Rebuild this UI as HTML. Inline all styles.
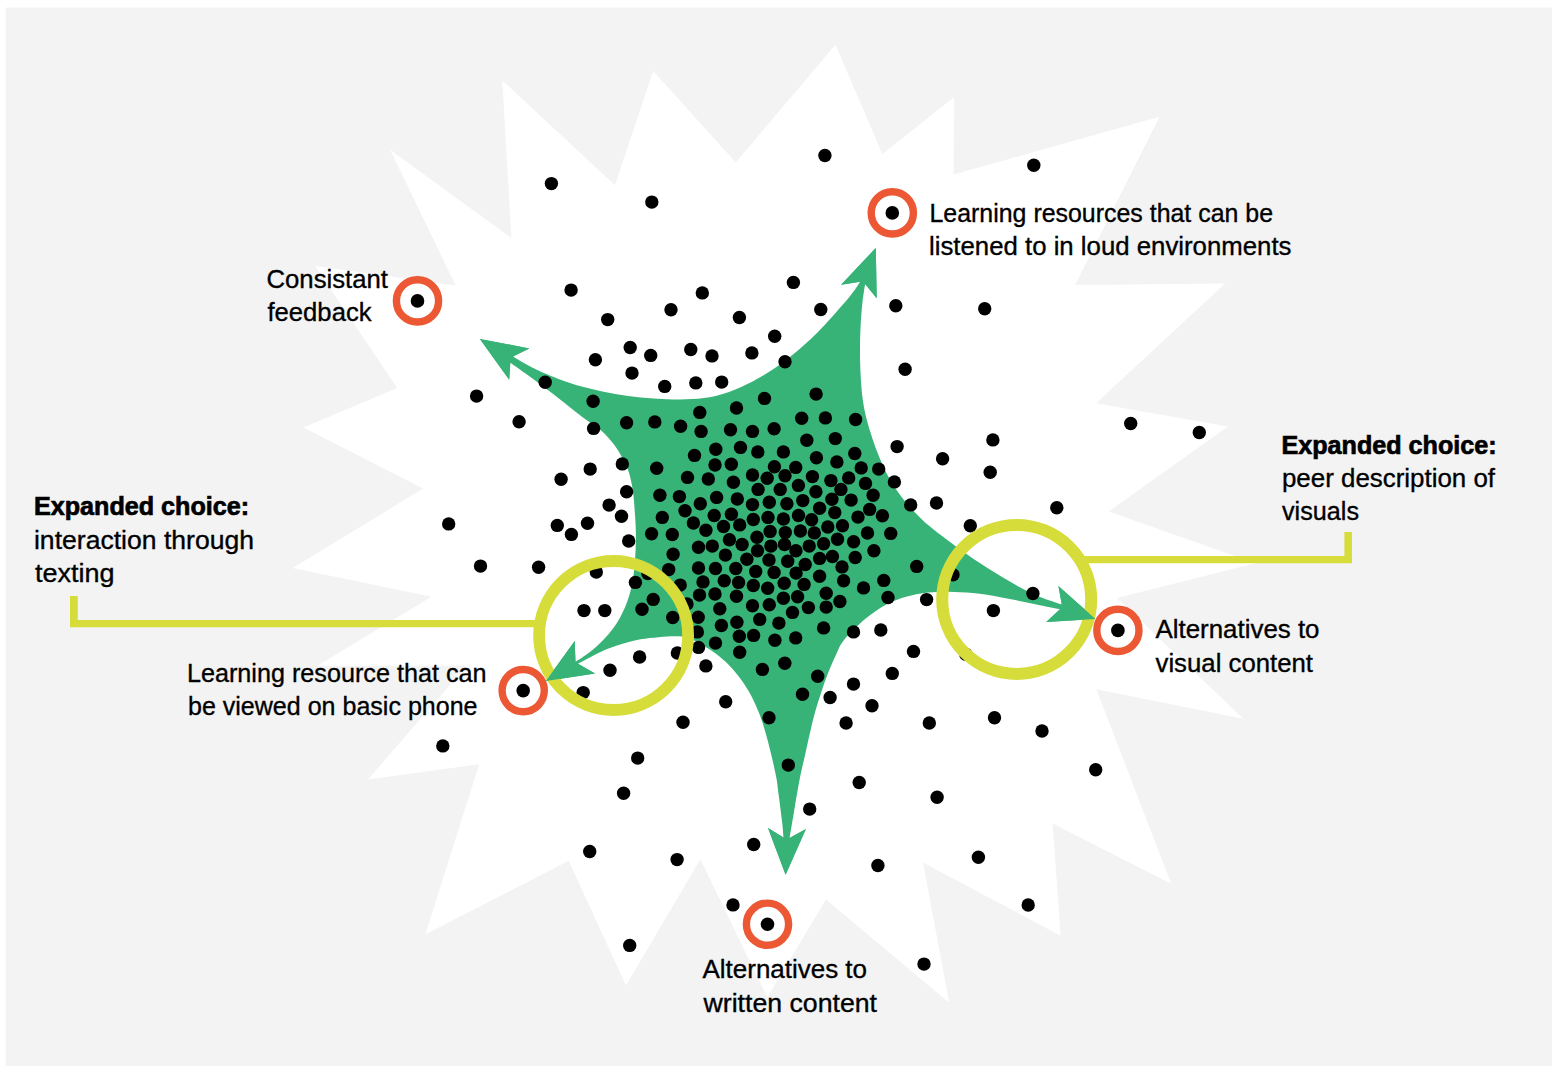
<!DOCTYPE html>
<html><head><meta charset="utf-8"><title>Diagram</title>
<style>
html,body{margin:0;padding:0;background:#fff;}
body{width:1565px;height:1078px;overflow:hidden;font-family:"Liberation Sans",sans-serif;}
svg{display:block;position:absolute;left:0;top:0;}
text{font-family:"Liberation Sans",sans-serif;font-size:26px;fill:#000;stroke:#000;stroke-width:0.35px;}
tspan.b{stroke-width:0.7px;}
</style></head><body>
<svg width="1565" height="1078" viewBox="0 0 1565 1078">
<rect x="0" y="0" width="1565" height="1078" fill="#fff"/>
<rect x="5.6" y="7.6" width="1546.5" height="1058.5" fill="#f3f3f3"/>
<polygon fill="#fff" points="835.4,44.8 882.4,154.0 954.3,97.0 953.5,174.5 1159.5,116.8 1075.0,285.0 1225.1,283.5 1096.0,403.2 1228.0,426.5 1108.6,511.5 1255.6,563.2 1116.9,598.0 1243.3,718.8 1096.3,689.3 1171.2,883.7 1052.6,823.6 1060.7,935.7 923.0,862.4 949.2,1002.7 826.0,899.4 767.3,997.3 700.4,859.3 626.0,985.5 568.7,860.8 425.4,934.3 479.2,764.3 367.9,779.5 466.8,665.6 317.0,666.0 431.5,596.8 292.8,568.0 423.0,488.6 303.5,427.5 397.2,388.0 315.1,266.0 455.7,285.4 390.1,149.8 511.4,238.0 502.3,80.4 615.0,185.2 653.2,71.0 735.8,162.4"/>
<path fill="#37b377" d="M513.0 356.5C515.1 357.8 521.4 361.7 525.6 364.0C529.8 366.3 532.0 367.6 538.4 370.4C544.8 373.2 555.5 377.9 564.0 380.9C572.5 383.9 581.1 386.4 589.6 388.6C598.1 390.8 606.7 392.6 615.2 394.1C623.7 395.6 632.2 396.8 640.8 397.6C649.3 398.5 658.0 398.9 666.5 399.2C675.0 399.4 683.9 399.6 692.1 399.1C700.3 398.6 707.4 398.0 715.6 396.0C723.8 394.0 732.7 390.8 741.2 387.0C749.7 383.2 758.3 378.6 766.8 373.3C775.3 368.0 783.9 361.9 792.4 355.0C800.9 348.1 809.5 340.5 818.0 332.0C826.5 323.5 837.6 310.6 843.6 303.8C849.6 297.0 851.1 294.7 853.9 291.0C856.6 287.3 859.1 283.2 860.1 281.7L841.1 284.7L875.8 247.9L876.7 298.2L865.1 284.1C864.6 287.2 863.2 295.7 862.4 303.0C861.6 310.3 860.9 319.8 860.5 328.0C860.1 336.2 860.0 343.7 860.0 352.0C860.0 360.3 860.3 370.0 860.8 378.0C861.3 386.0 861.8 393.1 862.8 400.0C863.8 406.9 865.0 412.8 866.6 419.2C868.2 425.6 870.3 432.0 872.4 438.4C874.5 444.8 876.7 451.2 879.4 457.6C882.1 464.0 885.0 470.6 888.4 476.8C891.8 483.0 895.6 489.0 899.9 494.8C904.2 500.6 909.1 506.2 914.0 511.4C918.9 516.6 923.9 521.4 929.4 526.1C934.9 530.8 940.9 535.2 947.0 539.8C953.1 544.4 960.3 549.6 966.2 553.8C972.1 558.0 976.6 561.0 982.5 564.8C988.4 568.6 995.3 573.0 1001.7 576.8C1008.1 580.6 1014.4 584.4 1020.8 587.8C1027.2 591.2 1033.2 594.2 1040.0 597.0C1046.8 599.8 1058.2 603.2 1061.8 604.5L1058.4 585.9L1095.5 619.0L1046.2 621.9L1060.0 609.2C1055.1 608.2 1040.1 605.2 1030.4 603.2C1020.7 601.2 1011.3 599.1 1001.7 597.4C992.1 595.7 981.7 594.0 972.9 593.1C964.1 592.2 956.5 591.8 949.0 591.7C941.5 591.6 935.0 591.8 928.0 592.6C921.0 593.4 914.0 594.6 907.0 596.6C900.0 598.6 892.9 601.0 885.9 604.7C878.9 608.5 872.1 613.2 865.1 619.1C858.1 625.0 848.9 634.0 844.0 640.0C839.1 646.0 838.4 649.9 835.7 655.4C833.0 660.9 830.4 667.3 828.0 673.3C825.6 679.3 823.7 684.8 821.6 691.2C819.5 697.6 817.1 704.9 815.2 711.7C813.3 718.5 811.8 725.0 810.1 732.2C808.4 739.5 806.7 747.6 805.0 755.2C803.3 762.8 801.8 768.5 799.9 778.0C798.0 787.5 795.6 802.4 793.9 812.4C792.2 822.4 790.3 833.6 789.6 837.9L805.9 829.1L785.6 874.8L768.0 828.0L783.5 837.4C783.3 835.0 783.0 829.9 782.2 822.7C781.4 815.6 779.6 802.0 778.6 794.5C777.6 787.0 777.5 783.9 776.4 778.0C775.3 772.1 773.7 765.2 772.3 759.1C770.9 753.0 769.5 747.2 767.9 741.2C766.3 735.2 764.6 729.0 762.7 723.2C760.8 717.4 758.6 711.9 756.3 706.6C754.0 701.3 751.7 696.3 748.7 691.2C745.7 686.1 742.2 680.8 738.4 675.9C734.5 671.0 729.9 665.9 725.6 661.8C721.3 657.7 717.1 654.5 712.8 651.5C708.5 648.5 703.6 645.6 700.0 643.5C696.4 641.4 694.0 640.2 691.0 639.0C688.0 637.8 686.1 636.8 682.1 636.4C678.1 636.0 672.8 636.1 667.3 636.4C661.8 636.7 655.3 637.3 649.4 638.1C643.5 638.9 637.2 639.9 631.6 641.2C626.0 642.5 620.7 644.2 615.5 646.0C610.3 647.8 606.8 649.0 600.5 652.0C594.2 655.0 581.8 661.8 578.0 663.7L595.0 673.5L545.9 681.1L574.7 640.9L575.5 661.9C577.3 660.7 582.9 657.1 586.5 654.5C590.1 651.9 594.4 648.4 597.1 646.0C599.8 643.6 600.7 642.6 602.9 640.3C605.1 638.0 607.7 635.3 610.1 632.3C612.5 629.3 615.1 625.8 617.2 622.5C619.3 619.2 621.0 616.0 622.6 612.6C624.2 609.2 625.8 605.6 627.1 601.9C628.5 598.2 629.7 594.5 630.7 590.3C631.7 586.1 632.6 581.3 633.3 576.8C634.0 572.3 634.3 567.9 634.7 563.4C635.1 558.9 635.4 554.7 635.6 550.0C635.8 545.3 635.9 539.8 635.9 535.2C635.9 530.6 635.7 526.7 635.5 522.4C635.3 518.1 634.9 513.9 634.6 509.6C634.3 505.3 634.1 501.1 633.6 496.8C633.1 492.5 632.6 488.3 631.7 484.0C630.9 479.7 630.0 475.5 628.5 471.2C627.0 466.9 625.2 462.9 622.7 458.4C620.2 453.9 617.2 448.8 613.8 444.3C610.4 439.8 606.5 435.3 602.3 431.5C598.1 427.7 592.8 424.6 588.5 421.5C584.2 418.4 580.9 415.9 576.8 412.7C572.7 409.5 568.3 405.8 564.0 402.4C559.7 399.0 555.5 395.6 551.2 392.4C546.9 389.2 542.7 386.1 538.4 383.0C534.1 379.9 530.3 377.0 525.6 373.6C520.9 370.2 512.9 364.6 510.3 362.8L509.2 379.7L479.9 339.0L529.3 348.4L513.0 356.5Z"/>
<g fill="#000"><circle cx="551.4" cy="183.6" r="6.7"/><circle cx="651.8" cy="202.1" r="6.7"/><circle cx="571.1" cy="290.1" r="6.7"/><circle cx="824.9" cy="155.5" r="6.7"/><circle cx="1033.8" cy="165.2" r="6.7"/><circle cx="793.4" cy="282.4" r="6.7"/><circle cx="702.3" cy="292.9" r="6.7"/><circle cx="820.8" cy="309.5" r="6.7"/><circle cx="895.8" cy="305.7" r="6.7"/><circle cx="984.7" cy="308.7" r="6.7"/><circle cx="671.0" cy="309.8" r="6.7"/><circle cx="607.7" cy="319.6" r="6.7"/><circle cx="630.2" cy="347.5" r="6.7"/><circle cx="650.7" cy="355.4" r="6.7"/><circle cx="595.4" cy="359.8" r="6.7"/><circle cx="632.0" cy="373.1" r="6.7"/><circle cx="545.2" cy="382.3" r="6.7"/><circle cx="476.6" cy="396.1" r="6.7"/><circle cx="519.1" cy="421.7" r="6.7"/><circle cx="561.1" cy="479.3" r="6.7"/><circle cx="557.3" cy="525.4" r="6.7"/><circle cx="448.7" cy="523.9" r="6.7"/><circle cx="571.4" cy="534.4" r="6.7"/><circle cx="480.5" cy="566.1" r="6.7"/><circle cx="538.6" cy="567.2" r="6.7"/><circle cx="739.4" cy="317.5" r="6.7"/><circle cx="774.7" cy="336.2" r="6.7"/><circle cx="690.8" cy="349.5" r="6.7"/><circle cx="712.0" cy="355.9" r="6.7"/><circle cx="751.9" cy="352.9" r="6.7"/><circle cx="785.0" cy="361.8" r="6.7"/><circle cx="721.7" cy="382.1" r="6.7"/><circle cx="905.1" cy="369.2" r="6.7"/><circle cx="830.9" cy="480.6" r="6.7"/><circle cx="873.9" cy="550.7" r="6.7"/><circle cx="1130.7" cy="423.5" r="6.7"/><circle cx="1199.3" cy="432.5" r="6.7"/><circle cx="683.0" cy="722.2" r="6.7"/><circle cx="442.8" cy="745.9" r="6.7"/><circle cx="637.7" cy="758.1" r="6.7"/><circle cx="623.6" cy="793.2" r="6.7"/><circle cx="589.7" cy="851.5" r="6.7"/><circle cx="677.1" cy="859.6" r="6.7"/><circle cx="788.3" cy="765.1" r="6.7"/><circle cx="830.1" cy="697.5" r="6.7"/><circle cx="846.1" cy="723.0" r="6.7"/><circle cx="929.3" cy="723.0" r="6.7"/><circle cx="1042.0" cy="731.0" r="6.7"/><circle cx="859.2" cy="782.5" r="6.7"/><circle cx="937.1" cy="797.3" r="6.7"/><circle cx="809.7" cy="809.1" r="6.7"/><circle cx="753.7" cy="844.5" r="6.7"/><circle cx="978.4" cy="857.3" r="6.7"/><circle cx="629.7" cy="945.4" r="6.7"/><circle cx="877.9" cy="865.5" r="6.7"/><circle cx="733.0" cy="904.9" r="6.7"/><circle cx="1028.2" cy="905.0" r="6.7"/><circle cx="924.0" cy="964.1" r="6.7"/><circle cx="1095.7" cy="769.8" r="6.7"/><circle cx="664.7" cy="386.4" r="6.7"/><circle cx="695.8" cy="382.9" r="6.7"/><circle cx="593.1" cy="401.2" r="6.7"/><circle cx="764.5" cy="398.4" r="6.7"/><circle cx="816.1" cy="394.1" r="6.7"/><circle cx="736.5" cy="408.0" r="6.7"/><circle cx="699.8" cy="412.4" r="6.7"/><circle cx="801.7" cy="418.3" r="6.7"/><circle cx="825.4" cy="417.9" r="6.7"/><circle cx="626.6" cy="422.7" r="6.7"/><circle cx="654.8" cy="421.9" r="6.7"/><circle cx="680.6" cy="426.3" r="6.7"/><circle cx="593.6" cy="428.4" r="6.7"/><circle cx="701.1" cy="431.4" r="6.7"/><circle cx="730.5" cy="429.8" r="6.7"/><circle cx="752.5" cy="431.4" r="6.7"/><circle cx="774.1" cy="428.7" r="6.7"/><circle cx="806.8" cy="440.2" r="6.7"/><circle cx="835.3" cy="438.6" r="6.7"/><circle cx="715.8" cy="449.2" r="6.7"/><circle cx="740.5" cy="447.4" r="6.7"/><circle cx="757.8" cy="451.9" r="6.7"/><circle cx="783.4" cy="451.9" r="6.7"/><circle cx="694.5" cy="455.4" r="6.7"/><circle cx="816.4" cy="457.8" r="6.7"/><circle cx="622.3" cy="463.9" r="6.7"/><circle cx="590.2" cy="469.1" r="6.7"/><circle cx="656.7" cy="468.2" r="6.7"/><circle cx="715.0" cy="465.0" r="6.7"/><circle cx="731.3" cy="464.3" r="6.7"/><circle cx="774.4" cy="466.7" r="6.7"/><circle cx="795.7" cy="467.4" r="6.7"/><circle cx="687.5" cy="477.4" r="6.7"/><circle cx="708.3" cy="479.0" r="6.7"/><circle cx="752.5" cy="475.0" r="6.7"/><circle cx="767.2" cy="478.2" r="6.7"/><circle cx="785.0" cy="475.8" r="6.7"/><circle cx="812.4" cy="476.6" r="6.7"/><circle cx="733.4" cy="482.2" r="6.7"/><circle cx="758.1" cy="489.4" r="6.7"/><circle cx="780.2" cy="489.4" r="6.7"/><circle cx="798.4" cy="485.4" r="6.7"/><circle cx="815.9" cy="491.8" r="6.7"/><circle cx="626.6" cy="491.8" r="6.7"/><circle cx="659.9" cy="495.3" r="6.7"/><circle cx="679.4" cy="496.6" r="6.7"/><circle cx="716.6" cy="497.4" r="6.7"/><circle cx="737.3" cy="499.0" r="6.7"/><circle cx="769.3" cy="502.2" r="6.7"/><circle cx="786.9" cy="503.8" r="6.7"/><circle cx="802.8" cy="500.6" r="6.7"/><circle cx="831.9" cy="499.3" r="6.7"/><circle cx="609.1" cy="505.1" r="6.7"/><circle cx="700.3" cy="503.8" r="6.7"/><circle cx="752.5" cy="504.6" r="6.7"/><circle cx="819.6" cy="508.3" r="6.7"/><circle cx="685.0" cy="510.7" r="6.7"/><circle cx="714.2" cy="515.5" r="6.7"/><circle cx="731.4" cy="514.2" r="6.7"/><circle cx="753.3" cy="519.5" r="6.7"/><circle cx="768.0" cy="517.4" r="6.7"/><circle cx="783.4" cy="519.0" r="6.7"/><circle cx="798.5" cy="515.5" r="6.7"/><circle cx="811.6" cy="519.8" r="6.7"/><circle cx="621.5" cy="516.3" r="6.7"/><circle cx="662.3" cy="517.4" r="6.7"/><circle cx="587.5" cy="523.3" r="6.7"/><circle cx="693.4" cy="523.0" r="6.7"/><circle cx="723.5" cy="526.5" r="6.7"/><circle cx="739.7" cy="524.9" r="6.7"/><circle cx="770.1" cy="531.4" r="6.7"/><circle cx="785.3" cy="532.6" r="6.7"/><circle cx="800.4" cy="531.0" r="6.7"/><circle cx="814.3" cy="532.9" r="6.7"/><circle cx="827.8" cy="527.0" r="6.7"/><circle cx="651.6" cy="533.7" r="6.7"/><circle cx="672.3" cy="534.5" r="6.7"/><circle cx="705.9" cy="530.2" r="6.7"/><circle cx="729.4" cy="539.7" r="6.7"/><circle cx="757.0" cy="537.3" r="6.7"/><circle cx="742.1" cy="544.5" r="6.7"/><circle cx="784.5" cy="544.5" r="6.7"/><circle cx="770.9" cy="546.1" r="6.7"/><circle cx="809.2" cy="546.1" r="6.7"/><circle cx="823.6" cy="543.7" r="6.7"/><circle cx="628.7" cy="541.0" r="6.7"/><circle cx="698.5" cy="547.3" r="6.7"/><circle cx="712.3" cy="546.1" r="6.7"/><circle cx="673.1" cy="554.3" r="6.7"/><circle cx="757.5" cy="550.8" r="6.7"/><circle cx="795.9" cy="550.8" r="6.7"/><circle cx="725.4" cy="555.1" r="6.7"/><circle cx="855.6" cy="419.5" r="6.7"/><circle cx="854.8" cy="453.5" r="6.7"/><circle cx="897.1" cy="446.6" r="6.7"/><circle cx="992.9" cy="439.9" r="6.7"/><circle cx="942.6" cy="458.8" r="6.7"/><circle cx="836.9" cy="461.9" r="6.7"/><circle cx="861.2" cy="467.9" r="6.7"/><circle cx="878.7" cy="469.1" r="6.7"/><circle cx="990.2" cy="472.3" r="6.7"/><circle cx="848.7" cy="477.9" r="6.7"/><circle cx="865.5" cy="483.4" r="6.7"/><circle cx="894.4" cy="481.9" r="6.7"/><circle cx="840.9" cy="489.4" r="6.7"/><circle cx="873.1" cy="495.3" r="6.7"/><circle cx="851.1" cy="500.1" r="6.7"/><circle cx="910.7" cy="504.9" r="6.7"/><circle cx="936.5" cy="503.0" r="6.7"/><circle cx="1056.8" cy="507.8" r="6.7"/><circle cx="869.6" cy="509.4" r="6.7"/><circle cx="834.8" cy="512.6" r="6.7"/><circle cx="858.0" cy="517.1" r="6.7"/><circle cx="882.4" cy="515.8" r="6.7"/><circle cx="842.5" cy="525.7" r="6.7"/><circle cx="970.3" cy="525.8" r="6.7"/><circle cx="867.5" cy="533.0" r="6.7"/><circle cx="890.7" cy="533.4" r="6.7"/><circle cx="837.5" cy="539.3" r="6.7"/><circle cx="853.6" cy="541.8" r="6.7"/><circle cx="855.2" cy="557.5" r="6.7"/><circle cx="832.4" cy="556.5" r="6.7"/><circle cx="746.9" cy="559.2" r="6.7"/><circle cx="769.0" cy="560.0" r="6.7"/><circle cx="787.7" cy="561.3" r="6.7"/><circle cx="805.2" cy="564.5" r="6.7"/><circle cx="819.6" cy="558.4" r="6.7"/><circle cx="596.3" cy="572.0" r="6.7"/><circle cx="668.7" cy="569.6" r="6.7"/><circle cx="647.9" cy="573.6" r="6.7"/><circle cx="698.5" cy="568.0" r="6.7"/><circle cx="715.5" cy="568.5" r="6.7"/><circle cx="735.8" cy="568.5" r="6.7"/><circle cx="755.7" cy="571.5" r="6.7"/><circle cx="774.1" cy="572.4" r="6.7"/><circle cx="796.1" cy="573.1" r="6.7"/><circle cx="819.6" cy="576.3" r="6.7"/><circle cx="635.4" cy="582.4" r="6.7"/><circle cx="680.2" cy="585.1" r="6.7"/><circle cx="703.0" cy="581.9" r="6.7"/><circle cx="724.2" cy="580.8" r="6.7"/><circle cx="738.6" cy="582.4" r="6.7"/><circle cx="753.3" cy="585.5" r="6.7"/><circle cx="767.7" cy="588.3" r="6.7"/><circle cx="784.2" cy="583.2" r="6.7"/><circle cx="804.1" cy="584.4" r="6.7"/><circle cx="826.2" cy="593.2" r="6.7"/><circle cx="653.2" cy="599.4" r="6.7"/><circle cx="699.5" cy="595.1" r="6.7"/><circle cx="715.0" cy="594.0" r="6.7"/><circle cx="736.5" cy="596.2" r="6.7"/><circle cx="783.4" cy="598.3" r="6.7"/><circle cx="797.6" cy="596.7" r="6.7"/><circle cx="687.0" cy="603.9" r="6.7"/><circle cx="584.0" cy="610.6" r="6.7"/><circle cx="604.8" cy="610.6" r="6.7"/><circle cx="642.0" cy="609.2" r="6.7"/><circle cx="719.8" cy="608.7" r="6.7"/><circle cx="752.5" cy="605.8" r="6.7"/><circle cx="769.3" cy="604.7" r="6.7"/><circle cx="808.4" cy="607.6" r="6.7"/><circle cx="826.2" cy="607.1" r="6.7"/><circle cx="792.5" cy="612.4" r="6.7"/><circle cx="672.7" cy="617.5" r="6.7"/><circle cx="698.2" cy="617.2" r="6.7"/><circle cx="736.9" cy="622.3" r="6.7"/><circle cx="759.7" cy="619.4" r="6.7"/><circle cx="778.9" cy="623.1" r="6.7"/><circle cx="721.4" cy="625.5" r="6.7"/><circle cx="823.6" cy="627.9" r="6.7"/><circle cx="697.4" cy="631.9" r="6.7"/><circle cx="739.3" cy="636.2" r="6.7"/><circle cx="753.6" cy="635.4" r="6.7"/><circle cx="774.9" cy="640.3" r="6.7"/><circle cx="795.7" cy="637.9" r="6.7"/><circle cx="715.5" cy="643.1" r="6.7"/><circle cx="698.5" cy="647.4" r="6.7"/><circle cx="677.4" cy="653.0" r="6.7"/><circle cx="739.7" cy="652.3" r="6.7"/><circle cx="639.6" cy="657.0" r="6.7"/><circle cx="784.8" cy="663.3" r="6.7"/><circle cx="705.9" cy="665.9" r="6.7"/><circle cx="610.0" cy="670.2" r="6.7"/><circle cx="762.4" cy="669.4" r="6.7"/><circle cx="817.7" cy="676.3" r="6.7"/><circle cx="583.2" cy="692.6" r="6.7"/><circle cx="802.5" cy="694.2" r="6.7"/><circle cx="725.7" cy="701.7" r="6.7"/><circle cx="769.0" cy="717.8" r="6.7"/><circle cx="842.0" cy="566.9" r="6.7"/><circle cx="916.7" cy="566.4" r="6.7"/><circle cx="843.6" cy="580.8" r="6.7"/><circle cx="883.8" cy="580.4" r="6.7"/><circle cx="953.0" cy="574.7" r="6.7"/><circle cx="863.5" cy="587.9" r="6.7"/><circle cx="839.9" cy="601.5" r="6.7"/><circle cx="888.0" cy="597.5" r="6.7"/><circle cx="926.6" cy="599.6" r="6.7"/><circle cx="1032.9" cy="593.5" r="6.7"/><circle cx="993.4" cy="610.6" r="6.7"/><circle cx="853.5" cy="631.9" r="6.7"/><circle cx="880.8" cy="630.0" r="6.7"/><circle cx="913.5" cy="651.4" r="6.7"/><circle cx="965.8" cy="654.2" r="6.7"/><circle cx="892.3" cy="673.4" r="6.7"/><circle cx="853.5" cy="684.1" r="6.7"/><circle cx="872.0" cy="705.7" r="6.7"/><circle cx="994.5" cy="717.7" r="6.7"/></g>
<g fill="none" stroke="#d6dd3a">
<circle cx="613.6" cy="635.5" r="74.5" stroke-width="11.8"/>
<circle cx="1016.7" cy="599.4" r="74.5" stroke-width="12"/>
</g>
<path fill="#d6dd3a" d="M70 596.1H77.76V620H540V627.14H70ZM1351.96 532.1H1344.4V556H1084V563.35H1351.96Z"/>
<path d="M860.1 281.7 L841.1 284.7 L875.8 247.9 L876.7 298.2 L865.1 284.1 Z" fill="#37b377"/><path d="M1061.8 604.5 L1058.4 585.9 L1095.5 619.0 L1046.2 621.9 L1060.0 609.2 Z" fill="#37b377"/><path d="M789.6 837.9 L805.9 829.1 L785.6 874.8 L768.0 828.0 L783.5 837.4 Z" fill="#37b377"/><path d="M578.0 663.7 L595.0 673.5 L545.9 681.1 L574.7 640.9 L575.5 661.9 Z" fill="#37b377"/><path d="M510.3 362.8 L509.2 379.7 L479.9 339.0 L529.3 348.4 L513.0 356.5 Z" fill="#37b377"/>
<circle cx="417.5" cy="300.9" r="21.1" fill="none" stroke="#ec5834" stroke-width="7.4"/><circle cx="417.5" cy="300.9" r="6.8" fill="#000"/><circle cx="892.3" cy="212.9" r="21.1" fill="none" stroke="#ec5834" stroke-width="7.4"/><circle cx="892.3" cy="212.9" r="6.8" fill="#000"/><circle cx="1117.9" cy="630.4" r="21.1" fill="none" stroke="#ec5834" stroke-width="7.4"/><circle cx="1117.9" cy="630.4" r="6.8" fill="#000"/><circle cx="767.5" cy="924.2" r="21.1" fill="none" stroke="#ec5834" stroke-width="7.4"/><circle cx="767.5" cy="924.2" r="6.8" fill="#000"/><circle cx="523.2" cy="690.6" r="21.1" fill="none" stroke="#ec5834" stroke-width="7.4"/><circle cx="523.2" cy="690.6" r="6.8" fill="#000"/>
<g><text><tspan x="266.49" y="287.7" textLength="121.53" lengthAdjust="spacingAndGlyphs">Consistant</tspan> <tspan x="267.50" y="320.8" textLength="104.01" lengthAdjust="spacingAndGlyphs">feedback</tspan></text>
<text><tspan x="929.47" y="222.0" textLength="343.55" lengthAdjust="spacingAndGlyphs">Learning resources that can be</tspan> <tspan x="928.98" y="255.2" textLength="362.52" lengthAdjust="spacingAndGlyphs">listened to in loud environments</tspan></text>
<text><tspan x="1281.47" y="453.8" textLength="215.09" lengthAdjust="spacingAndGlyphs" class="b" font-weight="700">Expanded choice:</tspan> <tspan x="1281.97" y="487.1" textLength="213.02" lengthAdjust="spacingAndGlyphs">peer description of</tspan> <tspan x="1281.98" y="520.4" textLength="77.03" lengthAdjust="spacingAndGlyphs">visuals</tspan></text>
<text><tspan x="33.97" y="515.4" textLength="215.08" lengthAdjust="spacingAndGlyphs" class="b" font-weight="700">Expanded choice:</tspan> <tspan x="33.98" y="548.7" textLength="220.06" lengthAdjust="spacingAndGlyphs">interaction through</tspan> <tspan x="34.98" y="581.8" textLength="79.58" lengthAdjust="spacingAndGlyphs">texting</tspan></text>
<text><tspan x="186.97" y="681.5" textLength="299.57" lengthAdjust="spacingAndGlyphs">Learning resource that can</tspan> <tspan x="187.99" y="714.7" textLength="289.53" lengthAdjust="spacingAndGlyphs">be viewed on basic phone</tspan></text>
<text><tspan x="1155.50" y="638.3" textLength="164.01" lengthAdjust="spacingAndGlyphs">Alternatives to</tspan> <tspan x="1155.50" y="671.8" textLength="157.50" lengthAdjust="spacingAndGlyphs">visual content</tspan></text>
<text><tspan x="702.50" y="978.4" textLength="164.51" lengthAdjust="spacingAndGlyphs">Alternatives to</tspan> <tspan x="703.50" y="1011.7" textLength="173.50" lengthAdjust="spacingAndGlyphs">written content</tspan></text>
</g>
</svg>
</body></html>
